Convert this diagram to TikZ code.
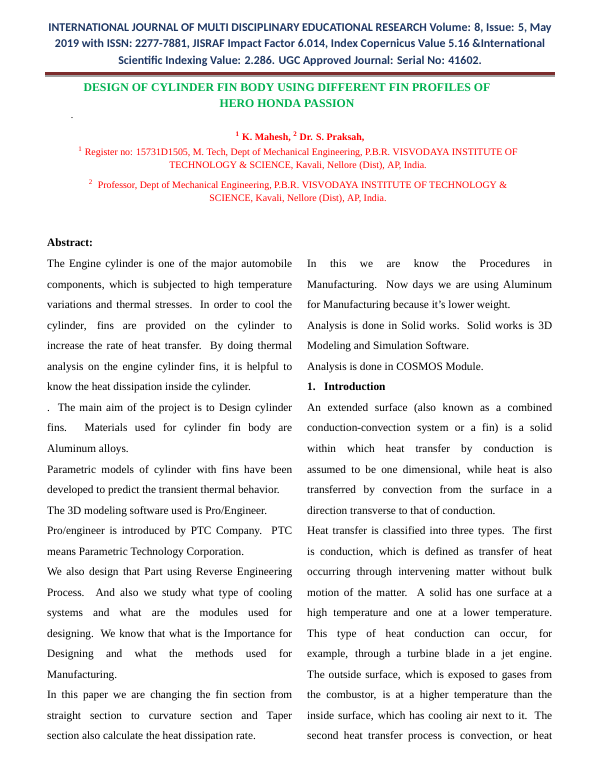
\documentclass[tikz,border=0pt]{standalone}
\usepackage{fontspec}
\setmainfont{Liberation Serif}
\newfontfamily\hdfont{Carlito}
\definecolor{hdblue}{HTML}{1F3864}
\definecolor{ttlgreen}{HTML}{00B050}
\definecolor{authred}{HTML}{FF0000}
\definecolor{rulered}{HTML}{7B2C2C}
\definecolor{rulegray}{HTML}{A0A0A0}
\newcounter{tn}
\newcommand{\jln}[3]{\stepcounter{tn}\node[bodytxt] (t\arabic{tn}) at (#1pt,-#2pt) {\makebox[245pt][s]{#3}};}
\newcommand{\lln}[3]{\stepcounter{tn}\node[bodytxt] (t\arabic{tn}) at (#1pt,-#2pt) {#3};}
\tikzset{
  bodytxt/.style={anchor=base west,inner sep=0pt,font=\fontsize{11.3}{13}\selectfont},
  hdtxt/.style={anchor=base,inner sep=0pt,text=hdblue,font=\hdfont\bfseries\fontsize{11.9}{13}\selectfont},
  ttltxt/.style={anchor=base,inner sep=0pt,text=ttlgreen,font=\bfseries\fontsize{11.8}{12}\selectfont},
  authtxt/.style={anchor=base,inner sep=0pt,text=authred,font=\fontsize{9.9}{10}\selectfont},
  rulebar/.style={anchor=north west,inner sep=0pt},
}
\begin{document}
\begin{tikzpicture}
\path[use as bounding box] (0pt,0pt) rectangle (600pt,-776pt);
\node[hdtxt] (h1) at (300pt,-32pt) {INTERNATIONAL JOURNAL OF MULTI DISCIPLINARY EDUCATIONAL RESEARCH Volume: 8, Issue: 5, May};
\node[hdtxt] (h2) at (300pt,-48pt) {2019 with ISSN: 2277-7881, JISRAF Impact Factor 6.014, Index Copernicus Value 5.16 \&International};
\node[hdtxt] (h3) at (300pt,-64pt) {Scientific Indexing Value: 2.286. UGC Approved Journal: Serial No: 41602.};
\node[rulebar,text=rulegray] (rg) at (45pt,-73pt) {\rule{510pt}{4pt}};
\node[rulebar,text=rulered] (rb) at (45pt,-72pt) {\rule{510pt}{3pt}};
\node[ttltxt] (ti1) at (287pt,-91pt) {DESIGN OF CYLINDER FIN BODY USING DIFFERENT FIN PROFILES OF};
\node[ttltxt] (ti2) at (287pt,-107pt) {HERO HONDA PASSION};
\node[authtxt,text=black] (dot) at (72pt,-118pt) {.};
\node[authtxt,font=\bfseries\fontsize{9.9}{10}\selectfont] (a1) at (300pt,-140pt) {\textsuperscript{1} K. Mahesh, \textsuperscript{2} Dr. S. Praksah,};
\node[authtxt] (a2) at (298pt,-155pt) {\textsuperscript{1} Register no: 15731D1505, M. Tech, Dept of Mechanical Engineering, P.B.R. VISVODAYA INSTITUTE OF};
\node[authtxt] (a3) at (298pt,-168pt) {TECHNOLOGY \& SCIENCE, Kavali, Nellore (Dist), AP, India.};
\node[authtxt] (a4) at (298pt,-188pt) {\textsuperscript{2}\ \ Professor, Dept of Mechanical Engineering, P.B.R. VISVODAYA INSTITUTE OF TECHNOLOGY \&};
\node[authtxt] (a5) at (298pt,-201pt) {SCIENCE, Kavali, Nellore (Dist), AP, India.};
% left column
\lln{47}{246}{\textbf{Abstract:}}
\jln{47}{267}{The Engine cylinder is one of the major automobile}
\jln{47}{288}{components, which is subjected to high temperature}
\jln{47}{308}{variations and thermal stresses. In order to cool the}
\jln{47}{329}{cylinder, fins are provided on the cylinder to}
\jln{47}{349}{increase the rate of heat transfer. By doing thermal}
\jln{47}{370}{analysis on the engine cylinder fins, it is helpful to}
\lln{47}{390}{know the heat dissipation inside the cylinder.}
\jln{47}{411}{. The main aim of the project is to Design cylinder}
\jln{47}{431}{fins. Materials used for cylinder fin body are}
\lln{47}{452}{Aluminum alloys.}
\jln{47}{473}{Parametric models of cylinder with fins have been}
\lln{47}{493}{developed to predict the transient thermal behavior.}
\lln{47}{514}{The 3D modeling software used is Pro/Engineer.}
\jln{47}{534}{Pro/engineer is introduced by PTC Company. PTC}
\lln{47}{555}{means Parametric Technology Corporation.}
\jln{47}{575}{We also design that Part using Reverse Engineering}
\jln{47}{596}{Process. And also we study what type of cooling}
\jln{47}{616}{systems and what are the modules used for}
\jln{47}{637}{designing. We know that what is the Importance for}
\jln{47}{657}{Designing and what the methods used for}
\lln{47}{678}{Manufacturing.}
\jln{47}{698}{In this paper we are changing the fin section from}
\jln{47}{719}{straight section to curvature section and Taper}
\lln{47}{739}{section also calculate the heat dissipation rate.}
% right column
\jln{307}{267}{In this we are know the Procedures in}
\jln{307}{288}{Manufacturing. Now days we are using Aluminum}
\lln{307}{308}{for Manufacturing because it's lower weight.}
\jln{307}{329}{Analysis is done in Solid works. Solid works is 3D}
\lln{307}{349}{Modeling and Simulation Software.}
\lln{307}{370}{Analysis is done in COSMOS Module.}
\lln{307}{390}{\textbf{1.\ \ \ Introduction}}
\jln{307}{411}{An extended surface (also known as a combined}
\jln{307}{431}{conduction-convection system or a fin) is a solid}
\jln{307}{452}{within which heat transfer by conduction is}
\jln{307}{473}{assumed to be one dimensional, while heat is also}
\jln{307}{493}{transferred by convection from the surface in a}
\lln{307}{514}{direction transverse to that of conduction.}
\jln{307}{534}{Heat transfer is classified into three types. The first}
\jln{307}{555}{is conduction, which is defined as transfer of heat}
\jln{307}{575}{occurring through intervening matter without bulk}
\jln{307}{596}{motion of the matter. A solid has one surface at a}
\jln{307}{616}{high temperature and one at a lower temperature.}
\jln{307}{637}{This type of heat conduction can occur, for}
\jln{307}{657}{example, through a turbine blade in a jet engine.}
\jln{307}{678}{The outside surface, which is exposed to gases from}
\jln{307}{698}{the combustor, is at a higher temperature than the}
\jln{307}{719}{inside surface, which has cooling air next to it. The}
\jln{307}{739}{second heat transfer process is convection, or heat}
\end{tikzpicture}
\end{document}
